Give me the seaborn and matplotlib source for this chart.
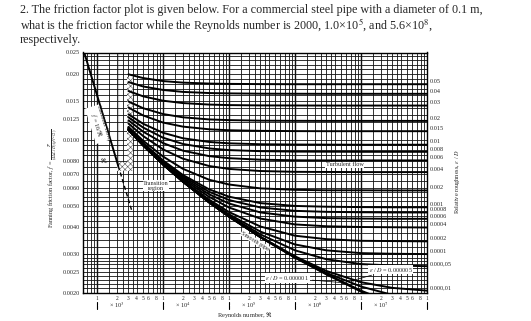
import numpy as np
import pandas as pd
import matplotlib
matplotlib.use("Agg")
import matplotlib.pyplot as plt
from matplotlib.ticker import NullLocator
import seaborn as sns

# ---------------- data ----------------
reynolds = [3e3, 5e3, 1e4, 2e4, 5e4, 1e5, 3e5, 1e6, 3e6, 1e7, 3e7, 1e8]

f_0_05 = [0.01988, 0.01912, 0.01852, 0.01822, 0.01804, 0.01798, 0.01794, 0.01792, 0.01792, 0.01792, 0.01792, 0.01792]
f_0_04 = [0.01832, 0.01750, 0.01687, 0.01653, 0.01633, 0.01627, 0.01622, 0.01621, 0.01620, 0.01620, 0.01620, 0.01620]
f_0_03 = [0.01668, 0.01578, 0.01507, 0.01470, 0.01447, 0.01439, 0.01434, 0.01433, 0.01432, 0.01432, 0.01432, 0.01432]
f_0_02 = [0.01495, 0.01393, 0.01310, 0.01266, 0.01238, 0.01229, 0.01222, 0.01220, 0.01219, 0.01219, 0.01219, 0.01219]
f_0_015 = [0.01402, 0.01291, 0.01198, 0.01148, 0.01116, 0.01105, 0.01098, 0.01095, 0.01094, 0.01094, 0.01094, 0.01094]
f_0_01 = [0.01306, 0.01183, 0.01076, 0.01016, 0.00977, 0.00963, 0.00954, 0.00951, 0.00950, 0.00949, 0.00949, 0.00949]
f_0_008 = [0.01266, 0.01137, 0.01022, 0.00957, 0.00913, 0.00897, 0.00887, 0.00883, 0.00882, 0.00881, 0.00881, 0.00881]
f_0_006 = [0.01226, 0.01089, 0.00966, 0.00892, 0.00842, 0.00824, 0.00811, 0.00806, 0.00805, 0.00805, 0.00805, 0.00805]
f_0_004 = [0.01185, 0.01040, 0.00904, 0.00820, 0.00759, 0.00736, 0.00720, 0.00714, 0.00713, 0.00712, 0.00712, 0.00712]
f_0_002 = [0.01145, 0.00990, 0.00839, 0.00737, 0.00657, 0.00625, 0.00600, 0.00591, 0.00588, 0.00588, 0.00587, 0.00587]
f_0_001 = [0.01126, 0.00966, 0.00805, 0.00691, 0.00594, 0.00550, 0.00514, 0.00499, 0.00495, 0.00493, 0.00492, 0.00492]
f_0_0008 = [0.01122, 0.00961, 0.00798, 0.00681, 0.00579, 0.00531, 0.00491, 0.00474, 0.00469, 0.00467, 0.00466, 0.00466]
f_0_0006 = [0.01118, 0.00956, 0.00791, 0.00671, 0.00564, 0.00512, 0.00466, 0.00446, 0.00439, 0.00437, 0.00436, 0.00436]
f_0_0004 = [0.01115, 0.00951, 0.00784, 0.00662, 0.00549, 0.00491, 0.00437, 0.00411, 0.00403, 0.00400, 0.00399, 0.00398]
f_0_0002 = [0.01111, 0.00947, 0.00778, 0.00652, 0.00533, 0.00468, 0.00402, 0.00365, 0.00352, 0.00346, 0.00345, 0.00344]
f_0_0001 = [0.01110, 0.00945, 0.00775, 0.00648, 0.00525, 0.00457, 0.00381, 0.00333, 0.00313, 0.00304, 0.00302, 0.00301]
f_0_00005 = [0.01109, 0.00944, 0.00773, 0.00646, 0.00521, 0.00451, 0.00370, 0.00313, 0.00285, 0.00271, 0.00267, 0.00265]
f_0_00001 = [0.01109, 0.00943, 0.00772, 0.00644, 0.00518, 0.00447, 0.00361, 0.00294, 0.00252, 0.00224, 0.00211, 0.00205]
f_0_000005 = [0.01109, 0.00943, 0.00772, 0.00644, 0.00518, 0.00446, 0.00360, 0.00292, 0.00247, 0.00214, 0.00196, 0.00187]
f_0_000001 = [0.01109, 0.00943, 0.00772, 0.00644, 0.00518, 0.00446, 0.00359, 0.00290, 0.00244, 0.00205, 0.00180, 0.00161]
f_smooth = [0.01109, 0.00943, 0.00772, 0.00644, 0.00518, 0.00446, 0.00359, 0.00290, 0.00243, 0.00203, 0.00175, 0.00150]

roughness_labels = ["0.05", "0.04", "0.03", "0.02", "0.015", "0.01", "0.008", "0.006",
                    "0.004", "0.002", "0.001", "0.0008", "0.0006", "0.0004", "0.0002",
                    "0.0001", "0.000,05", "0.000,01", None, None, "smooth"]
roughness_series = [f_0_05, f_0_04, f_0_03, f_0_02, f_0_015, f_0_01, f_0_008, f_0_006,
                    f_0_004, f_0_002, f_0_001, f_0_0008, f_0_0006, f_0_0004, f_0_0002,
                    f_0_0001, f_0_00005, f_0_00001, f_0_000005, f_0_000001, f_smooth]

laminar_re = [614, 2100]
laminar_f = [0.0261, 0.0076]
laminar_ext_re = [2100, 3400]
laminar_ext_f = [0.0076, 0.0047]
critical_re = [2100, 2100]
critical_f = [0.0076, 0.025]
transition_re = [2000, 2850, 2850, 3500, 3500, 2000]
transition_f = [0.0079, 0.0079, 0.0194, 0.0194, 0.0072, 0.0072]

ytick_values = [0.025, 0.020, 0.015, 0.0125, 0.0100, 0.0080, 0.0070, 0.0060,
                0.0050, 0.0040, 0.0030, 0.0025, 0.0020]
ytick_labels = ["0.025", "0.020", "0.015", "0.0125", "0.0100", "0.0080", "0.0070",
                "0.0060", "0.0050", "0.0040", "0.0030", "0.0025", "0.0020"]
xtick_mult = [1, 2, 3, 4, 5, 6, 8]
decades = [3, 4, 5, 6, 7]

question = ["2. The friction factor plot is given below. For a commercial steel pipe with a diameter of 0.1 m,",
            "what is the friction factor while the Reynolds number is 2000, 1.0\u00d710$^5$, and 5.6\u00d710$^8$,",
            "respectively."]

# ---------------- style ----------------
sns.set_theme(style="white")
plt.rcParams["font.family"] = ["Liberation Serif", "DejaVu Serif"]
plt.rcParams["mathtext.fontset"] = "stix"
plt.rcParams["hatch.linewidth"] = 0.4

W, H = 531, 321
fig = plt.figure(figsize=(W / 100, H / 100), dpi=100)
L, R, T, B = 83, 427, 52.5, 293
ax = fig.add_axes([L / W, 1 - B / H, (R - L) / W, (B - T) / H])
ax.set_xscale("log")
ax.set_yscale("log")
ax.set_xlim(614, 1e8)
ax.set_ylim(0.002, 0.025)

SM = 4.5  # small chart text size

# dense chart grid
for d in range(2, 8):
    for m in [1, 1.5, 2, 2.5, 3, 3.5, 4, 5, 6, 7, 8, 9]:
        xv = m * 10 ** d
        if 614 < xv < 1e8:
            ax.axvline(xv, color="#111111", lw=1.0 if m == 1 else 0.6, zorder=1)
fgrid = np.concatenate([np.arange(0.0021, 0.003, 0.0001), np.arange(0.003, 0.006, 0.00025),
                        np.arange(0.006, 0.010, 0.0005), np.arange(0.010, 0.025, 0.001)])
for yv in fgrid:
    ax.axhline(yv, color="#111111", lw=0.6, zorder=1)

# transition shading
ax.fill(transition_re, transition_f, facecolor="white", edgecolor="#555555",
        hatch="xxxxxx", lw=0, zorder=2)

# turbulent curves
rows = []
for i, vals in enumerate(roughness_series):
    for re_, fv in zip(reynolds, vals):
        rows.append({"Re": re_, "f": fv, "curve": i})
df = pd.DataFrame(rows)
sns.lineplot(data=df, x="Re", y="f", units="curve", estimator=None, sort=False,
             color="black", lw=1.4, ax=ax, zorder=3, legend=False)

# laminar
sns.lineplot(x=laminar_re, y=laminar_f, color="black", lw=1.4, ax=ax, zorder=3)
sns.lineplot(x=laminar_ext_re, y=laminar_ext_f, color="black", lw=1.0, ax=ax,
             zorder=3, linestyle=(0, (3, 2)))
sns.lineplot(x=critical_re, y=critical_f, color="black", lw=1.0, ax=ax,
             zorder=3, linestyle=(0, (3, 2)))

# right labels
for lab, vals in zip(roughness_labels, roughness_series):
    if lab is None or lab == "smooth":
        continue
    ax.annotate(lab, xy=(1, vals[-1]), xycoords=("axes fraction", "data"),
                xytext=(2, 2), textcoords="offset points", fontsize=SM,
                va="center", ha="left", annotation_clip=False)

# y ticks
ax.set_yticks(ytick_values, ytick_labels)
ax.yaxis.set_minor_locator(NullLocator())
ax.tick_params(axis="y", length=0, pad=2, labelsize=SM)

# x ticks
xt, xl = [], []
for d in decades:
    for m in xtick_mult:
        xt.append(m * 10 ** d)
        xl.append(str(m))
xt.append(1e8)
xl.append("1")
ax.set_xticks(xt, xl)
ax.xaxis.set_minor_locator(NullLocator())
ax.tick_params(axis="x", length=1.5, width=0.5, pad=0.8, labelsize=4.0, direction="out")

for sp in ax.spines.values():
    sp.set_color("black")
    sp.set_linewidth(1.0)

ax.set_xlabel("")
ax.set_ylabel("")

# decade arrows
yrow = -0.052
for d in decades:
    ax.annotate("", xy=(10 ** d, yrow), xytext=(10 ** (d + 1), yrow),
                xycoords=("data", "axes fraction"), textcoords=("data", "axes fraction"),
                arrowprops=dict(arrowstyle="<->", lw=0.5, mutation_scale=3, shrinkA=0.5, shrinkB=0.5),
                annotation_clip=False)
    ax.text(10 ** (d + 0.3), yrow, "\u00d7 10$^{%d}$" % d, fontsize=SM,
            transform=ax.get_xaxis_transform(), ha="center", va="center",
            bbox=dict(facecolor="white", edgecolor="none", pad=0.3), clip_on=False)
for d in decades + [8]:
    ax.plot([10 ** d, 10 ** d], [yrow - 0.015, yrow + 0.015], color="black", lw=0.8,
            transform=ax.get_xaxis_transform(), clip_on=False)

# annotations inside the chart
box = dict(facecolor="white", edgecolor="none", pad=0.4)
ax.text(1050, 0.0118, "Laminar flow,\n$f$ = 16/$\\Re$", fontsize=SM, rotation=-73,
        rotation_mode="anchor", ha="center", va="center", bbox=box, zorder=5,
        linespacing=1.0)
ax.text(1320, 0.0080, "$\\Re_c$", fontsize=SM, ha="center", va="center", zorder=5)
ax.text(7850, 0.00617, "Transition\nregion", fontsize=SM, ha="center", va="center",
        bbox=box, zorder=5, linespacing=1.0)
ax.text(5.7e6, 0.0077, "Turbulent flow", fontsize=SM, ha="center", va="center",
        bbox=box, zorder=5)
ax.text(2.5e5, 0.00345, "Smooth pipe", fontsize=SM, ha="center", va="center",
        rotation=-32, rotation_mode="anchor", bbox=box, zorder=5)
ax.annotate("$\\epsilon$ / $D$ = 0.000001", xy=(6.2e6, 0.00222), xytext=(7.6e5, 0.00234),
            fontsize=SM, ha="center", va="center", bbox=box, zorder=5,
            arrowprops=dict(arrowstyle="-|>", lw=0.5, color="black", mutation_scale=3))
ax.annotate("$\\epsilon$ / $D$ = 0.000005", xy=(6.4e6, 0.00225), xytext=(2.8e7, 0.00255),
            fontsize=SM, ha="center", va="center", bbox=box, zorder=5,
            arrowprops=dict(arrowstyle="-|>", lw=0.5, color="black", mutation_scale=3))

# axis titles
fig.text(53 / W, 1 - 178 / H,
         "Fanning friction factor, $f$ = $\\frac{\\mathcal{F}}{(4\\Delta L\\,/\\,D)(\\rho V^2/2)}$",
         rotation=90, fontsize=4.5, ha="center", va="center")
fig.text(457 / W, 1 - 182 / H, "Relative roughness, $\\epsilon$ / $D$", rotation=90,
         fontsize=4.5, ha="center", va="center")
fig.text(245 / W, 1 - 315 / H, "Reynolds number, $\\Re$", fontsize=4.6,
         ha="center", va="center")

# question text
for i, line in enumerate(question):
    fig.text(20 / W, 1 - (10 + 15 * i) / H, line, fontsize=8.7, ha="left", va="center")

fig.savefig("out.png", dpi=100, facecolor="white")
